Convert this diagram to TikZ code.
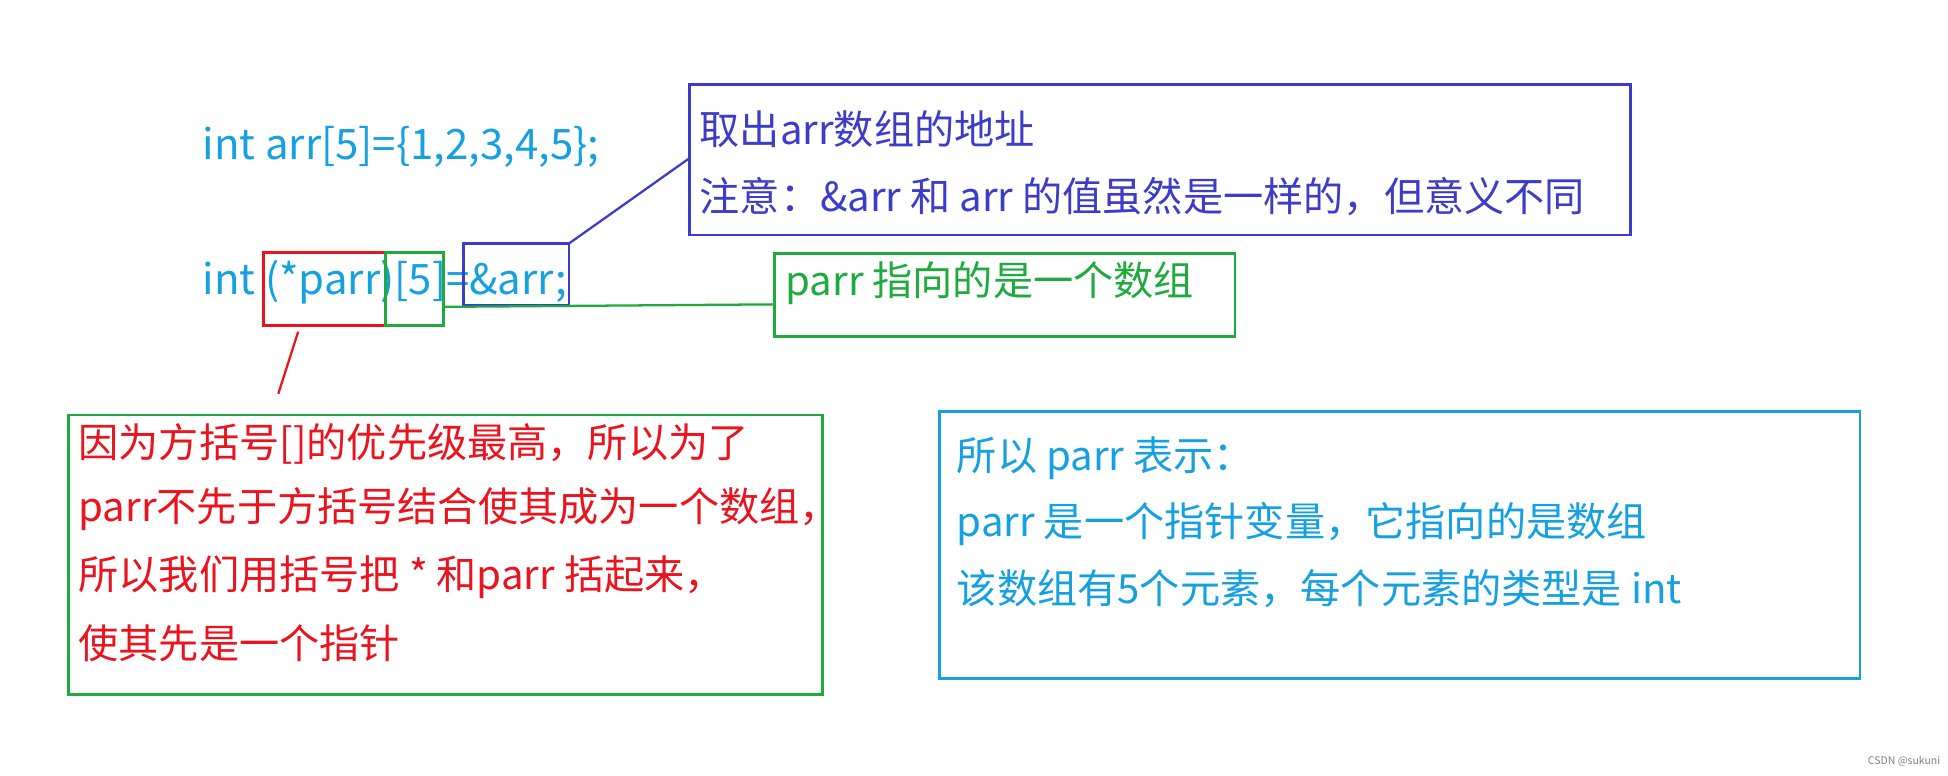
\documentclass[tikz,border=0pt]{standalone}
\usepackage{fontspec}
\setmainfont{Noto Sans CJK SC}
\begin{document}
\begin{tikzpicture}[x=0.025cm,y=-0.025cm,
  cy/.style={text=cyanc,font=\fontsize{24}{28}\selectfont,inner sep=0pt,anchor=west},
  bx/.style={draw,line width=1.6pt},
  txt/.style={font=\fontsize{23}{27}\selectfont,inner sep=0pt,anchor=west}]
\definecolor{cyanc}{RGB}{20,160,225}
\definecolor{bluec}{RGB}{60,60,200}
\definecolor{greenc}{RGB}{30,170,60}
\definecolor{redc}{RGB}{235,20,30}
\useasboundingbox[fill=white] (0,0) rectangle (1568,624);
\node[cy] (l1) at (163,118) {int arr[5]=\{1,2,3,4,5\};};
\node[cy] (l2) at (163,227) {int (*parr)[5]=\&arr;};
\draw[bx,redc] (212,203) rectangle (310,262) coordinate (rb);
\draw[bx,greenc] (310,203) rectangle (357,262);
\draw[bx,bluec] (373,196) rectangle (458,246);
\node[bx,bluec,minimum width=757*0.025cm,minimum height=121*0.025cm,anchor=north west,inner sep=0pt] (B1) at (554,67) {};
\node[txt,text=bluec] (b1a) at (563,104) {取出arr数组的地址};
\node[txt,text=bluec] (b1b) at (563,158) {注意：\&arr 和 arr 的值虽然是一样的，但意义不同};
\coordinate (bt) at (458,196);
\draw[bluec,line width=1.3pt] (bt) -- (B1.north west |- 0,128);
\node[bx,greenc,minimum width=371*0.025cm,minimum height=67*0.025cm,anchor=north west,inner sep=0pt] (G1) at (622,203) {};
\node[txt,text=greenc] (g1) at (632,228) {parr 指向的是一个数组};
\coordinate (gs) at (357,247);
\draw[greenc,line width=1.3pt] (gs) -- (G1.west |- 0,245);
\coordinate (ra) at (240,267);
\coordinate (rz) at (224,317);
\draw[redc,line width=1.3pt] (ra) -- (rz);
\node[bx,greenc,minimum width=607*0.025cm,minimum height=225*0.025cm,anchor=north west,inner sep=0pt] (G2) at (54,333) {};
\node[txt,text=redc] at (63,357) {因为方括号[]的优先级最高，所以为了};
\node[txt,text=redc] at (63,410) {parr不先于方括号结合使其成为一个数组，};
\node[txt,text=redc] at (63,465) {所以我们用括号把 * 和parr 括起来，};
\node[txt,text=redc] at (63,518) {使其先是一个指针};
\node[bx,cyanc,minimum width=741*0.025cm,minimum height=215*0.025cm,anchor=north west,inner sep=0pt] (C1) at (755,330) {};
\node[txt,text=cyanc] at (770,369) {所以 parr 表示：};
\node[txt,text=cyanc] at (770,422) {parr 是一个指针变量，它指向的是数组};
\node[txt,text=cyanc] at (770,474) {该数组有5个元素，每个元素的类型是 int};
\node[text=gray,font=\fontsize{6}{7}\selectfont,inner sep=0pt,anchor=east] (wm) at (1562,613) {CSDN @sukuni};
\end{tikzpicture}
\end{document}
